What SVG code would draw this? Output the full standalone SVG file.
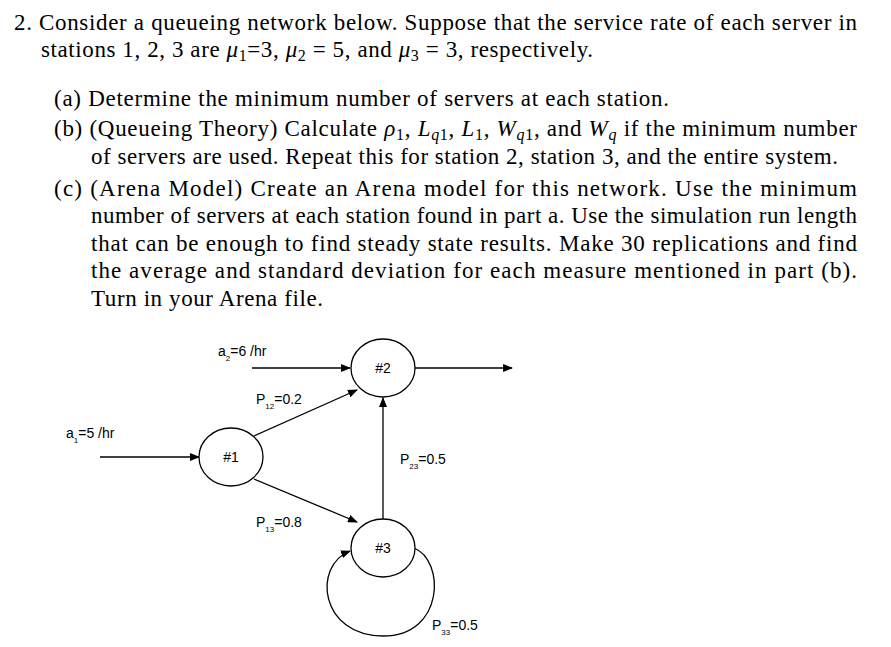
<svg xmlns="http://www.w3.org/2000/svg" width="891" height="647" viewBox="0 0 891 647">
<style>
.t{font-family:"Liberation Serif",serif;font-size:23px;fill:#000}
.i{font-style:italic}
.s{font-size:16px}
.d{font-family:"Liberation Sans",Arial,sans-serif;font-size:14px;fill:#000}
.ds{font-size:8px}
.n{fill:#fff;stroke:#000;stroke-width:1.3}
.c{fill:none;stroke:#000;stroke-width:1.3}
</style>
<defs><marker id="a" markerWidth="10" markerHeight="8" refX="9" refY="4" orient="auto" markerUnits="userSpaceOnUse"><path d="M0,0L10,4L0,8z"/></marker></defs>
<rect width="891" height="647" fill="#fff"/>
<text class="t" x="14" y="30" textLength="843" lengthAdjust="spacing">2. Consider a queueing network below. Suppose that the service rate of each server in</text>
<text class="t" x="41" y="57" textLength="552" lengthAdjust="spacing">stations 1, 2, 3 are <tspan class="i">μ</tspan><tspan class="s" dy="4">1</tspan><tspan dy="-4">=3, </tspan><tspan class="i">μ</tspan><tspan class="s" dy="4">2</tspan><tspan dy="-4"> = 5, and </tspan><tspan class="i">μ</tspan><tspan class="s" dy="4">3</tspan><tspan dy="-4"> = 3, respectively.</tspan></text>
<text class="t" x="54" y="106" textLength="615" lengthAdjust="spacing">(a) Determine the minimum number of servers at each station.</text>
<text class="t" x="54" y="136" textLength="803" lengthAdjust="spacing">(b) (Queueing Theory) Calculate <tspan class="i">ρ</tspan><tspan class="s" dy="4">1</tspan><tspan dy="-4">, </tspan><tspan class="i">L</tspan><tspan class="s i" dy="4">q</tspan><tspan class="s" >1</tspan><tspan dy="-4">, </tspan><tspan class="i">L</tspan><tspan class="s" dy="4">1</tspan><tspan dy="-4">, </tspan><tspan class="i">W</tspan><tspan class="s i" dy="4">q</tspan><tspan class="s">1</tspan><tspan dy="-4">, and </tspan><tspan class="i">W</tspan><tspan class="s i" dy="4">q</tspan><tspan dy="-4"> if the minimum number</tspan></text>
<text class="t" x="91" y="164" textLength="747" lengthAdjust="spacing">of servers are used. Repeat this for station 2, station 3, and the entire system.</text>
<text class="t" x="54" y="196" textLength="803" lengthAdjust="spacing">(c) (Arena Model) Create an Arena model for this network.  Use the minimum</text>
<text class="t" x="91" y="223" textLength="766" lengthAdjust="spacing">number of servers at each station found in part a. Use the simulation run length</text>
<text class="t" x="91" y="251" textLength="766" lengthAdjust="spacing">that can be enough to find steady state results. Make 30 replications and find</text>
<text class="t" x="91" y="278" textLength="766" lengthAdjust="spacing">the average and standard deviation for each measure mentioned in part (b).</text>
<text class="t" x="91" y="306" textLength="232" lengthAdjust="spacing">Turn in your Arena file.</text>
<g id="connectors">
<path class="c" d="M252,368H350" marker-end="url(#a)"/>
<path class="c" d="M415,368H512" marker-end="url(#a)"/>
<path class="c" d="M100,457H199" marker-end="url(#a)"/>
<path class="c" d="M254,436L357,390" marker-end="url(#a)"/>
<path class="c" d="M254,479L357,522" marker-end="url(#a)"/>
<path class="c" d="M383,519V398" marker-end="url(#a)"/>
<path class="c" d="M414,548C445,560 445,636 383,636C320,636 312,566 350,551" marker-end="url(#a)"/>
</g>
<g id="n2"><ellipse class="n" cx="383" cy="368" rx="32" ry="29"/><text class="d" x="383" y="373" text-anchor="middle">#2</text></g>
<g id="n1"><ellipse class="n" cx="231" cy="457" rx="32" ry="29"/><text class="d" x="231" y="462" text-anchor="middle">#1</text></g>
<g id="n3"><ellipse class="n" cx="383" cy="548" rx="32" ry="29"/><text class="d" x="383" y="553" text-anchor="middle">#3</text></g>
<g id="labels">
<text class="d" x="218" y="356">a<tspan class="ds" dy="5">2</tspan><tspan dy="-5">=6 /hr</tspan></text>
<text class="d" x="66" y="438">a<tspan class="ds" dy="5">1</tspan><tspan dy="-5">=5 /hr</tspan></text>
<text class="d" x="256" y="404">P<tspan class="ds" dy="5">12</tspan><tspan dy="-5">=0.2</tspan></text>
<text class="d" x="256" y="527">P<tspan class="ds" dy="5">13</tspan><tspan dy="-5">=0.8</tspan></text>
<text class="d" x="400" y="464">P<tspan class="ds" dy="5">23</tspan><tspan dy="-5">=0.5</tspan></text>
<text class="d" x="432" y="630">P<tspan class="ds" dy="5">33</tspan><tspan dy="-5">=0.5</tspan></text>
</g>
</svg>
